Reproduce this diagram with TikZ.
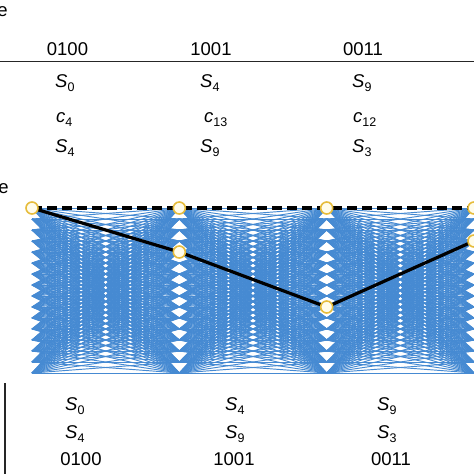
\documentclass[tikz,border=0pt]{standalone}
\usepackage{fontspec}
\setmainfont{Liberation Sans}
\definecolor{trel}{RGB}{70,138,210}
\definecolor{gold}{RGB}{230,188,60}
\definecolor{ringfill}{RGB}{255,252,235}
\newcommand\symb[2]{\textit{#1}\raisebox{-0.22em}{\fontsize{12.5}{13}\selectfont #2}}
\begin{document}
\begin{tikzpicture}[x=1pt,y=-1pt,
  lbl/.style={inner sep=0pt, font=\fontsize{18.5}{20}\selectfont},
  symlbl/.style={lbl, anchor=base west},
  binlbl/.style={lbl, anchor=base},
  mesh/.style={draw=trel, line width=0.95pt},
  ring/.style={circle, draw=gold, fill=ringfill, line width=1.6pt, minimum size=12pt, inner sep=0pt},
  survivor/.style={line width=3.2pt, black},
  best/.style={line width=3.2pt, black, dash pattern=on 10pt off 5pt},
  rule/.style={line width=1.1pt, black!85}]
\useasboundingbox (0,0) rectangle (474,474);
% panel labels
\node[lbl, anchor=base] (ltop) at (2.5,16) {e};
\node[lbl, anchor=base] (lmid) at (3.5,193) {e};
% top table
\coordinate (hl0) at (0,61.5);
\coordinate (hl1) at (474,61.5);
\draw[rule] (hl0) -- (hl1);
\node[binlbl] (tb1) at (67.5,55) {0100};
\node[binlbl] (tb2) at (211,55) {1001};
\node[binlbl] (tb3) at (363,55) {0011};
\node[symlbl] (ts1) at (55,87) {\symb{S}{0}};
\node[symlbl] (ts2) at (200,87) {\symb{S}{4}};
\node[symlbl] (ts3) at (352,87) {\symb{S}{9}};
\node[symlbl] (tc1) at (56,122) {\symb{c}{4}};
\node[symlbl] (tc2) at (204,122) {\symb{c}{13}};
\node[symlbl] (tc3) at (353,122) {\symb{c}{12}};
\node[symlbl] (tn1) at (55,152) {\symb{S}{4}};
\node[symlbl] (tn2) at (200,152) {\symb{S}{9}};
\node[symlbl] (tn3) at (352,152) {\symb{S}{3}};
% trellis coordinates
\foreach \c/\x in {0/32,1/179.3,2/326.7,3/474}{
  \foreach \r in {0,...,15}{
    \coordinate (n-\c-\r) at (\x,208+11*\r);
  }
}
% trellis branches
\foreach \c [evaluate=\c as \d using int(\c+1)] in {0,1,2}{
  \foreach \r in {0,...,15}{
    \foreach \s in {0,...,15}{
      \draw[mesh] (n-\c-\r) -- (n-\d-\s);
    }
  }
}
% paths
\draw[best] (n-0-0) -- (n-3-0);
\draw[survivor] (n-0-0) -- (n-1-4) -- (n-2-9) -- (n-3-3);
\node[ring] (r1) at (n-0-0) {};
\node[ring] (r2) at (n-1-0) {};
\node[ring] (r3) at (n-1-4) {};
\node[ring] (r4) at (n-2-0) {};
\node[ring] (r5) at (n-2-9) {};
\node[ring] (r6) at (n-3-0) {};
\node[ring] (r7) at (n-3-3) {};
% bottom table
\coordinate (vl0) at (5,383);
\coordinate (vl1) at (5,474);
\draw[rule] (vl0) -- (vl1);
\node[symlbl] (bs1) at (65,410) {\symb{S}{0}};
\node[symlbl] (bs2) at (225,410) {\symb{S}{4}};
\node[symlbl] (bs3) at (377,410) {\symb{S}{9}};
\node[symlbl] (bn1) at (65,438) {\symb{S}{4}};
\node[symlbl] (bn2) at (225,438) {\symb{S}{9}};
\node[symlbl] (bn3) at (377,438) {\symb{S}{3}};
\node[binlbl] (bb1) at (81,465) {0100};
\node[binlbl] (bb2) at (234,465) {1001};
\node[binlbl] (bb3) at (391,465) {0011};
\end{tikzpicture}
\end{document}
